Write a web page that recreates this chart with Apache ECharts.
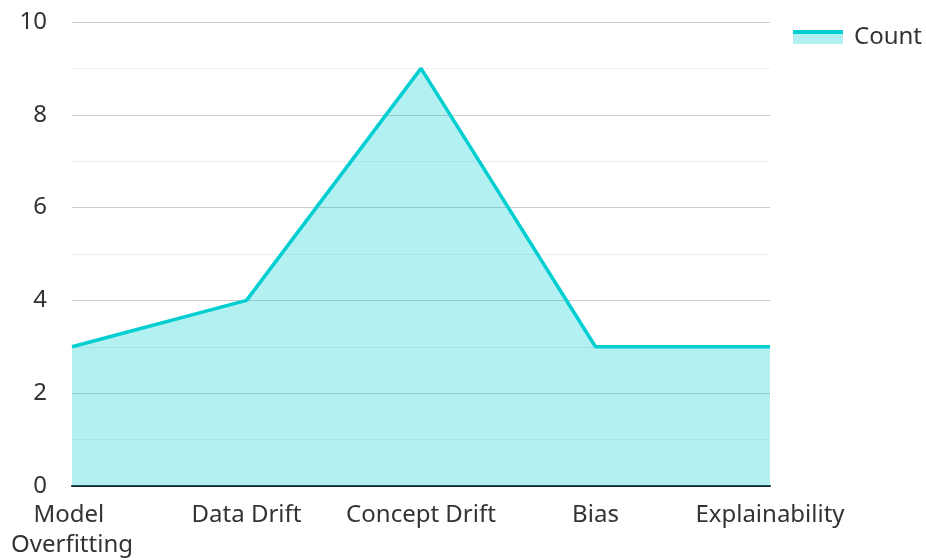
<!DOCTYPE html>
<html>
<head>
<meta charset="utf-8">
<style>html,body{margin:0;padding:0;background:#fff}#chart{width:926px;height:560px}</style>
<script src="https://cdn.jsdelivr.net/npm/echarts@6/dist/echarts.min.js"></script>
</head>
<body>
<div id="chart"></div>
<script>
const categories = ['Model Overfitting', 'Data Drift', 'Concept Drift', 'Bias', 'Explainability'];
const counts = [3, 4, 9, 3, 3];
const seriesName = 'Count';

const lineColor = '#00CED1';
const areaColor = '#b2f0f1';
const textColor = '#333';
const fontFamily = '"Noto Sans", "Open Sans", sans-serif';

const chart = echarts.init(document.getElementById('chart'));
chart.setOption({
  animation: false,
  textStyle: { fontFamily: fontFamily },
  grid: {
    left: 72, right: 156, top: 22, bottom: 74,
    containLabel: false, outerBoundsMode: 'none'
  },
  legend: {
    right: 4, top: 25, padding: 0,
    itemWidth: 50, itemHeight: 14, itemGap: 10,
    textStyle: { fontSize: 24, color: textColor, fontFamily: fontFamily, padding: [0, 0, 3, 6] },
    data: [{
      name: seriesName,
      icon: 'rect',
      itemStyle: {
        color: new echarts.graphic.LinearGradient(0, 0, 0, 1, [
          { offset: 0, color: lineColor },
          { offset: 0.28, color: lineColor },
          { offset: 0.28, color: areaColor },
          { offset: 1, color: areaColor }
        ])
      }
    }]
  },
  xAxis: {
    type: 'category',
    data: categories,
    boundaryGap: false,
    axisLine: { lineStyle: { color: '#222', width: 2 } },
    axisTick: { show: false },
    axisLabel: {
      fontSize: 24, color: textColor, margin: 14, interval: 0,
      width: 172, overflow: 'break', lineHeight: 30
    }
  },
  yAxis: {
    type: 'value',
    min: 0, max: 10, interval: 2,
    axisLine: { show: false },
    axisTick: { show: false },
    axisLabel: { fontSize: 24, color: textColor, margin: 25 },
    splitLine: { lineStyle: { color: '#ccc', width: 1 } },
    minorTick: { show: false, splitNumber: 2 },
    minorSplitLine: { show: true, lineStyle: { color: '#eee', width: 1 } }
  },
  series: [{
    name: seriesName,
    type: 'line',
    data: counts,
    symbol: 'none',
    lineStyle: { color: lineColor, width: 3.5 },
    itemStyle: { color: lineColor },
    areaStyle: { color: lineColor, opacity: 0.3 }
  }]
});
</script>
</body>
</html>
